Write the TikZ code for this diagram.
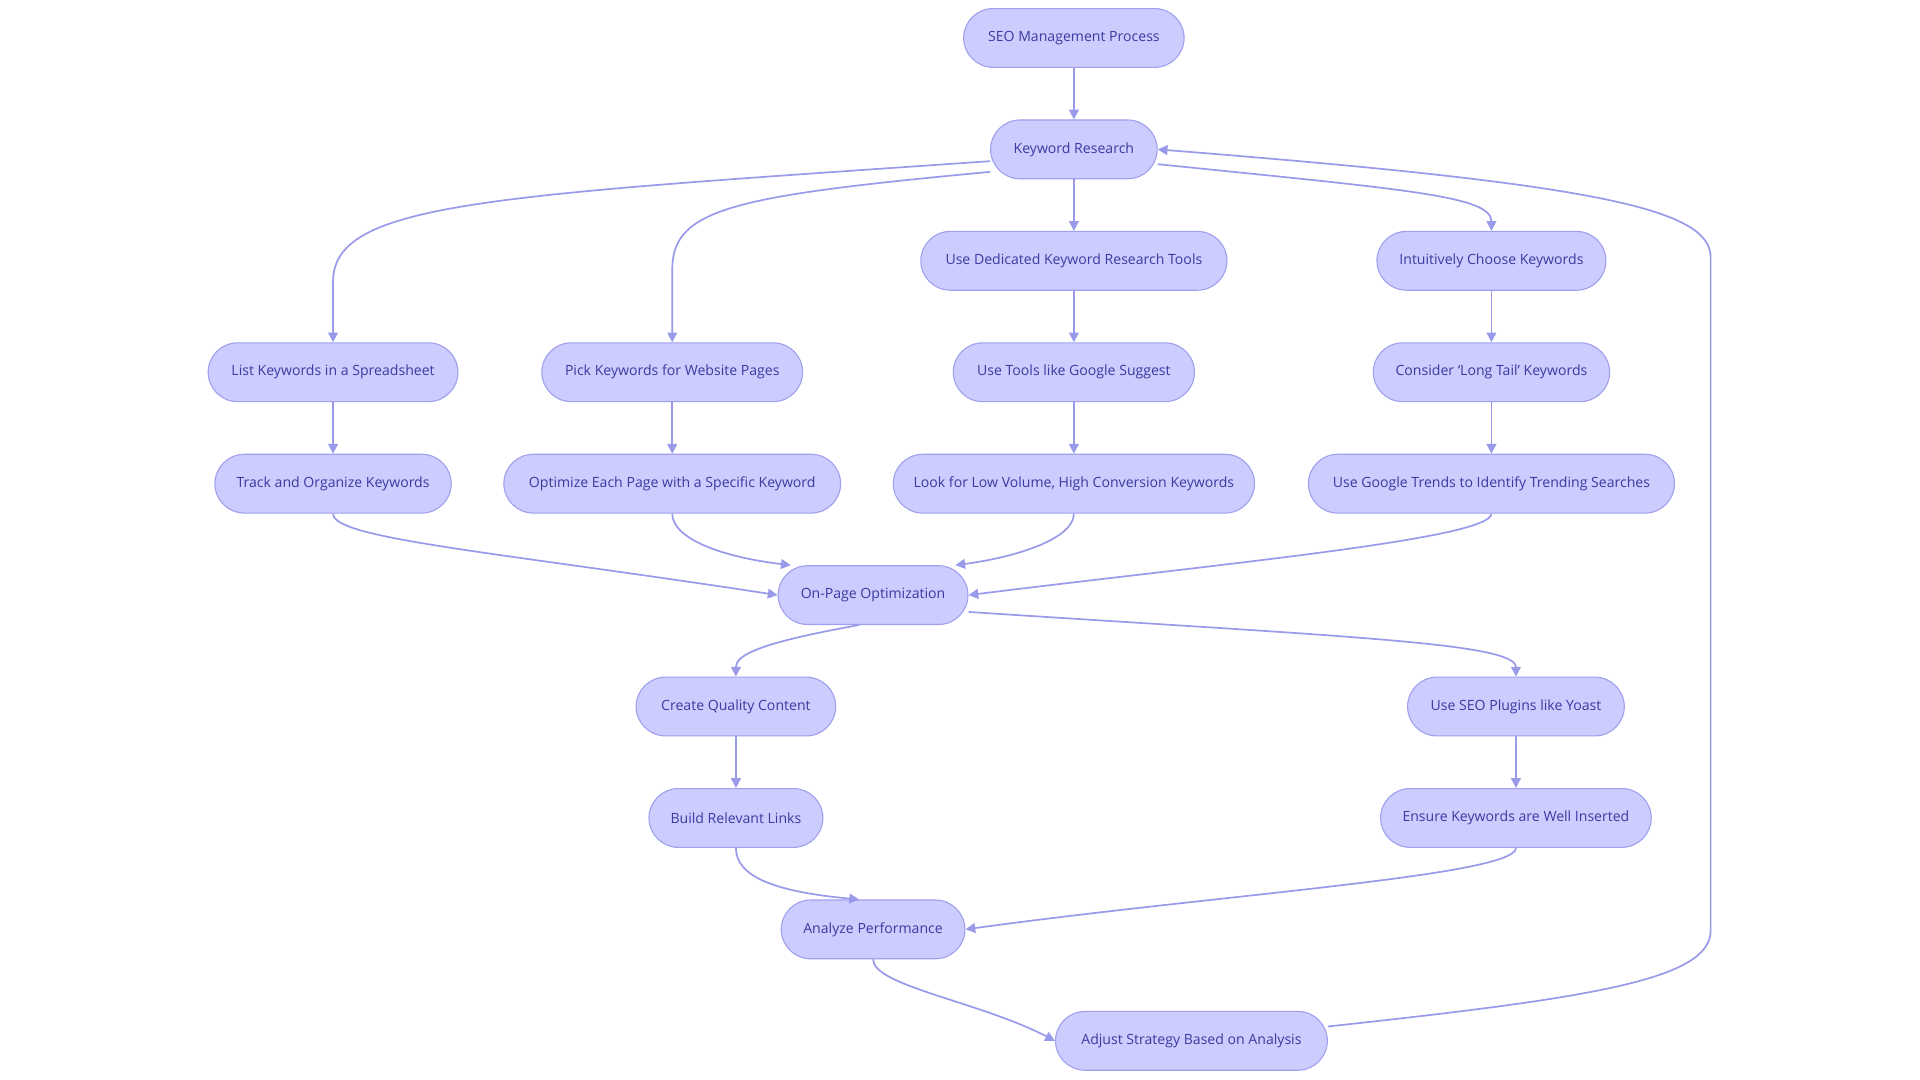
\documentclass[tikz,border=0pt]{standalone}
\usepackage{fontspec}
\setmainfont{Open Sans}
\usetikzlibrary{arrows.meta}
\definecolor{nfill}{HTML}{CCCCFF}
\definecolor{nline}{HTML}{A0A0EE}
\definecolor{ntext}{HTML}{3B3BA0}
\definecolor{eline}{HTML}{9A9AEA}
\tikzset{
 box/.style={draw=nline,fill=nfill,rounded corners=24pt,minimum height=48pt,text=ntext,font=\fontsize{11.5}{13}\selectfont,line width=0.9pt,inner xsep=0pt},
 conn/.style={draw=eline,line width=1.4pt,-{Triangle[length=8pt,width=8pt]}}
}
\begin{document}
\begin{tikzpicture}[x=1pt,y=-1pt]
\useasboundingbox (0,0) rectangle (1568,882);
\node[box,minimum width=180pt] (seo) at (877,31) {SEO Management Process};
\node[box,minimum width=136pt] (kr) at (877,122) {Keyword Research};
\node[box,minimum width=250pt] (ud) at (877,213) {Use Dedicated Keyword Research Tools};
\node[box,minimum width=187pt] (ic) at (1218,213) {Intuitively Choose Keywords};
\node[box,minimum width=204pt] (lk) at (272,304) {List Keywords in a Spreadsheet};
\node[box,minimum width=213pt] (pk) at (549,304) {Pick Keywords for Website Pages};
\node[box,minimum width=197pt] (ut) at (877,304) {Use Tools like Google Suggest};
\node[box,minimum width=193pt] (cl) at (1218,304) {Consider `Long Tail' Keywords};
\node[box,minimum width=193pt] (to) at (272,395) {Track and Organize Keywords};
\node[box,minimum width=275pt] (oe) at (549,395) {Optimize Each Page with a Specific Keyword};
\node[box,minimum width=295pt] (lv) at (877,395) {Look for Low Volume, High Conversion Keywords};
\node[box,minimum width=299pt] (gt) at (1218,395) {Use Google Trends to Identify Trending Searches};
\node[box,minimum width=155pt] (op) at (713,486) {On-Page Optimization};
\node[box,minimum width=163pt] (cq) at (601,577) {Create Quality Content};
\node[box,minimum width=177pt] (sp) at (1238,577) {Use SEO Plugins like Yoast};
\node[box,minimum width=142pt] (bl) at (601,668) {Build Relevant Links};
\node[box,minimum width=221pt] (ek) at (1238,668) {Ensure Keywords are Well Inserted};
\node[box,minimum width=150pt] (ap) at (713,759) {Analyze Performance};
\node[box,minimum width=222pt] (as) at (973,850) {Adjust Strategy Based on Analysis};

\draw[conn] (seo) -- (kr);
\draw[conn] (kr) -- (ud);
\draw[conn] (ud) -- (ut);
\draw[conn] (ut) -- (lv);
\draw[conn] (ic) -- (cl);
\draw[conn] (cl) -- (gt);
\draw[conn] (lk) -- (to);
\draw[conn] (pk) -- (oe);
\draw[conn] (cq) -- (bl);
\draw[conn] (sp) -- (ek);
\draw[conn] (kr.188) .. controls (400,160) and (272,165) .. (272,230) -- (lk.north);
\draw[conn] (kr.195) .. controls (600,160) and (549,170) .. (549,220) -- (pk.north);
\draw[conn] (kr.-10) .. controls (1150,155) and (1218,160) .. (ic.north);
\draw[conn] (as.6) .. controls (1300,815) and (1397,800) .. (1397,760) -- (1397,210) .. controls (1397,170) and (1300,150) .. (kr.east);
\draw[conn] (to.south) .. controls (272,440) and (400,450) .. (op.west);
\draw[conn] (oe.south) .. controls (549,440) and (590,455) .. (op.160);
\draw[conn] (lv.south) .. controls (877,440) and (830,455) .. (op.20);
\draw[conn] (gt.south) .. controls (1218,440) and (1000,460) .. (op.east);
\draw[conn] (op.-115) .. controls (620,525) and (601,535) .. (cq.north);
\draw[conn] (op.-10) .. controls (1100,520) and (1238,525) .. (sp.north);
\draw[conn] (bl.south) .. controls (601,715) and (630,728) .. (ap.115);
\draw[conn] (ek.south) .. controls (1238,715) and (1000,730) .. (ap.east);
\draw[conn] (ap.south) .. controls (713,805) and (800,818) .. (as.west);
\end{tikzpicture}
\end{document}
